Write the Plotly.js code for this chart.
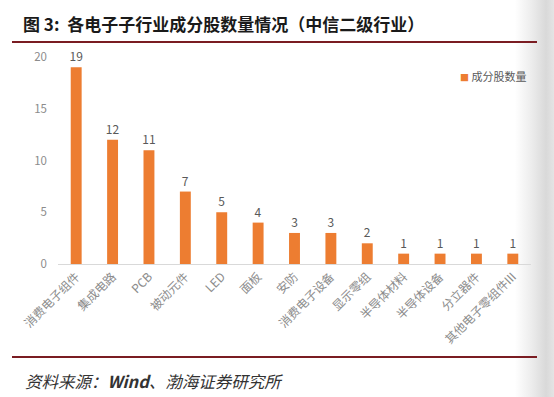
<!DOCTYPE html>
<html>
<head>
<meta charset="utf-8">
<script src="https://cdn.plot.ly/plotly-3.0.1.min.js"></script>
<style>
  html, body { margin: 0; padding: 0; }
  body {
    width: 554px; height: 397px; overflow: hidden;
    background: linear-gradient(to right, #ffffff 0px, #ffffff 515px, #ececec 532px, #d9d9d9 546px, #e4e4e4 554px);
  }
  #chart { width: 554px; height: 397px; }
</style>
</head>
<body>
<div id="chart"></div>
<script>
var categories = ["消费电子组件", "集成电路", "PCB", "被动元件", "LED", "面板", "安防", "消费电子设备", "显示零组", "半导体材料", "半导体设备", "分立器件", "其他电子零组件III"];
var counts = [19, 12, 11, 7, 5, 4, 3, 3, 2, 1, 1, 1, 1];
var seriesName = "成分股数量";
var titleText = "图 3:  各电子子行业成分股数量情况（中信二级行业）";
var sourceText = "资料来源：<b>Wind</b>、渤海证券研究所";
var yTicks = [0, 5, 10, 15, 20];
var barColor = "#ED7D31";

var L = 58, R = 531, T = 57, B = 264;
function px(x) { return (x - L) / (R - L); }
function py(y) { return (B - y) / (B - T); }

var trace = {
  type: "bar",
  x: categories,
  y: counts,
  name: seriesName,
  marker: { color: barColor },
  width: 0.3,
  text: counts.map(String),
  textposition: "outside",
  constraintext: "none",
  textfont: { family: "Noto Sans CJK SC, sans-serif", size: 12, color: "#595959" },
  cliponaxis: false,
  showlegend: false
};

var layout = {
  width: 554, height: 397,
  margin: { l: L, r: 554 - R, t: T, b: 397 - B },
  paper_bgcolor: "rgba(0,0,0,0)",
  plot_bgcolor: "rgba(0,0,0,0)",
  font: { family: "Noto Sans CJK SC, sans-serif", color: "#8c8c8c" },
  xaxis: {
    type: "category",
    tickangle: -45,
    tickfont: { size: 12, color: "#8c8c8c" },
    showline: true, linecolor: "#d9d9d9", linewidth: 1,
    ticks: "", showgrid: false, zeroline: false
  },
  yaxis: {
    range: [0, 20],
    tickvals: yTicks,
    tickfont: { size: 11.5, color: "#8c8c8c" },
    showgrid: false, zeroline: false, showline: false, ticks: "",
    ticklabelstandoff: 10
  },
  bargap: 0.7,
  showlegend: false,
  shapes: [
    { type: "line", xref: "paper", yref: "paper", x0: px(12), x1: px(537), y0: py(42), y1: py(42),
      line: { color: "#7a1c22", width: 2 } },
    { type: "line", xref: "paper", yref: "paper", x0: px(12), x1: px(537), y0: py(357), y1: py(357),
      line: { color: "#7a1c22", width: 2 } }
  ],
  annotations: [
    { xref: "paper", yref: "paper", x: px(21), y: py(24), xanchor: "left", yanchor: "middle",
      text: "<b>" + titleText + "</b>", showarrow: false,
      font: { family: "Noto Sans CJK SC, sans-serif", size: 17, color: "#1a1a1a" } },
    { xref: "paper", yref: "paper", x: px(23), y: py(381), xanchor: "left", yanchor: "middle",
      text: "<i>" + sourceText + "</i>", showarrow: false,
      font: { family: "Noto Sans CJK SC, sans-serif", size: 16.5, color: "#333333" } },
    { xref: "paper", yref: "paper", x: px(458), y: py(76), xanchor: "left", yanchor: "middle",
      text: "<span style='color:" + barColor + ";font-size:9px'>■</span> " + seriesName, showarrow: false,
      font: { family: "Noto Sans CJK SC, sans-serif", size: 11, color: "#595959" } }
  ]
};

Plotly.newPlot("chart", [trace], layout, { displayModeBar: false, staticPlot: true });
</script>
</body>
</html>
